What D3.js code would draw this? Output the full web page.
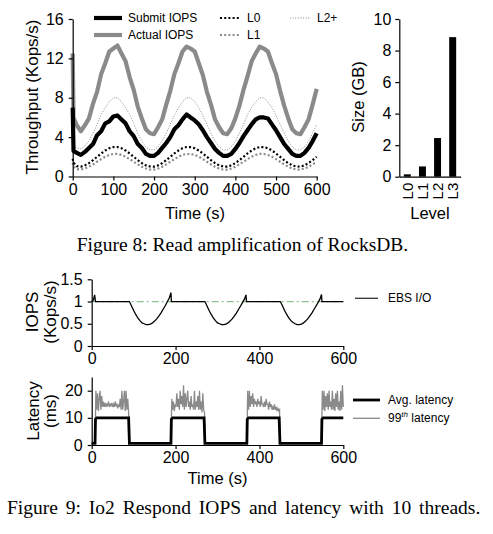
<!DOCTYPE html>
<html><head><meta charset="utf-8">
<script src="https://cdn.jsdelivr.net/npm/d3@7/dist/d3.min.js"></script>
<style>
body{margin:0;background:#fff}
svg{display:block;font-family:"Liberation Sans",Arial,Helvetica,sans-serif}
</style>
</head><body><svg id="c" width="493" height="534"></svg>
<script>
// ---------------- DATA ----------------
// Figure 8 left: throughput over time (Kops/s)
const topTime = [0, 2].concat(d3.range(10, 601, 10));
const submitIops = [7.0, 2.6,
  2.4,2.2,2.5,2.9,3.3,4.2,4.6,5.4,5.6,6.1,
  6.2,5.8,5.4,4.6,4.1,3.3,2.9,2.3,2.1,2.1,
  2.4,2.9,3.4,4.0,4.8,5.2,5.8,6.3,6.0,5.7,
  5.3,4.7,4.0,3.4,2.8,2.4,2.1,2.1,2.3,2.8,
  3.4,4.1,4.7,5.3,5.8,6.0,6.0,5.9,5.3,4.7,
  4.0,3.3,2.8,2.3,2.1,2.1,2.4,2.9,3.6,4.4];
const actualIops = [12.5, 6.0,
  5.2,4.6,5.2,5.9,7.4,8.6,10.4,11.5,12.7,13.0,
  13.3,12.5,11.7,10.1,8.8,7.1,5.9,4.8,4.4,4.3,
  5.0,5.8,7.3,8.7,10.4,11.5,12.7,13.2,13.0,12.7,
  11.5,10.3,8.6,7.3,5.8,5.0,4.4,4.3,4.9,5.9,
  7.2,8.8,10.2,11.7,12.5,13.2,13.0,12.7,11.5,10.4,
  8.7,7.2,5.9,4.8,4.4,4.3,5.0,5.8,7.3,8.9];
const l0 = [1.8, 1.4,
  1.05,1.0,1.13,1.36,1.66,2.0,2.34,2.64,2.87,2.99,
  3.0,2.87,2.64,2.34,2.0,1.66,1.36,1.13,1.02,1.0,
  1.13,1.36,1.66,2.0,2.34,2.64,2.87,2.99,2.98,2.87,
  2.64,2.34,2.0,1.66,1.36,1.13,1.02,1.0,1.13,1.36,
  1.66,2.0,2.34,2.64,2.87,2.99,2.99,2.87,2.64,2.34,
  2.0,1.66,1.36,1.13,1.02,1.0,1.13,1.36,1.66,2.0];
const l1 = [1.4, 1.0,
  0.75,0.71,0.81,0.99,1.23,1.5,1.77,2.01,2.19,2.29,
  2.3,2.19,2.01,1.77,1.5,1.23,0.99,0.81,0.71,0.7,
  0.81,0.99,1.23,1.5,1.77,2.01,2.19,2.29,2.28,2.19,
  2.01,1.77,1.5,1.23,0.99,0.81,0.71,0.7,0.81,0.99,
  1.23,1.5,1.77,2.01,2.19,2.29,2.29,2.19,2.01,1.77,
  1.5,1.23,0.99,0.81,0.71,0.7,0.81,0.99,1.23,1.5];
const l2plus = [3.0, 3.0,
  2.9,2.8,3.1,3.6,4.4,5.3,6.3,7.0,7.6,8.0,
  8.0,7.6,7.0,6.3,5.4,4.4,3.6,3.0,2.7,2.7,
  3.0,3.6,4.4,5.3,6.2,7.0,7.6,8.0,8.0,7.6,
  7.0,6.2,5.3,4.4,3.6,3.0,2.7,2.7,3.0,3.6,
  4.4,5.3,6.3,7.0,7.6,8.0,8.0,7.6,7.0,6.2,
  5.3,4.4,3.6,3.0,2.7,2.7,3.0,3.6,4.4,5.3];
const topYTicks = [0, 4, 8, 12, 16];
const topXTicks = [0, 100, 200, 300, 400, 500, 600];

// Figure 8 right: level sizes (GB)
const levels = ["L0", "L1", "L2", "L3"];
const levelSize = [0.15, 0.65, 2.45, 8.85];
const sizeTicks = [0, 2, 4, 6, 8, 10];

// Figure 9 top: EBS IOPS (Kops/s)
const ebsTime = [0,4,7,9,
  90,95,100,105,110,115,120,125,130,135,140,145,150,155,160,165,170,175,180,185,189,190,
  270,275,280,285,290,295,300,305,310,315,320,325,330,335,340,345,350,355,360,365,368,369,
  450,455,460,465,470,475,480,485,490,495,500,505,510,515,520,525,530,535,540,545,548,549,
  600];
const ebsIops = [1.0,1.03,1.15,1.0,
  1.0,0.9,0.8,0.71,0.63,0.57,0.52,0.5,0.48,0.48,0.49,0.52,0.56,0.61,0.67,0.74,0.82,0.9,0.99,1.08,1.2,1.0,
  1.0,0.9,0.8,0.71,0.63,0.57,0.52,0.5,0.48,0.48,0.49,0.52,0.56,0.61,0.67,0.74,0.82,0.9,0.98,1.07,1.15,1.0,
  1.0,0.9,0.8,0.71,0.63,0.57,0.53,0.5,0.48,0.48,0.49,0.52,0.56,0.61,0.67,0.74,0.82,0.9,0.98,1.07,1.16,1.0,
  1.0];
const ebsLimit = 1.0;
const iopsTicks = [0, 0.5, 1, 1.5];
const iopsTickLabels = ["0", "0.5", "1", "1.5"];

// Figure 9 bottom: latency (ms)
const avgTime = [0,8,9,12,88,90,189,190,193,268,270,370,371,374,447,449,548,549,552,600];
const avgLatency = [0.6,0.6,9.5,10,10,0.6,0.6,9.5,10,10,0.6,0.6,9.5,10,10,0.6,0.6,9.5,10,10];
const onStart = [8, 189, 370, 548];
const onEnd = [90, 270, 449, 600];
const p99Start = [10, 191, 372, 550];   // first sample of each busy period (2 s spacing)
const p99Off = 0.6;
const p99Busy = [
  [20,13,19,12.5,17,20,13,18,14,16,14,15.5,14,15,14.5,16,14,15,14.5,15.5,14,15,14,16,14.5,15,13.5,15,14,17,13,20,13,16,20,12.5,20,13,17,12],
  [17,13,16,12.5,15,14,19,14,17,13,20,15,18,14,22,13,19,14,17,20,14,16,13,18,14,15,13,20,13,16,14,18,13,20,13,16,12,19,13,12],
  [20,13,20,14,18,15,19,14,17,15,16,14,17,15,16,14,18,15,15,14,16,14,17,15,15,13,16,14,15,13,14,13,15,13,14,12.5,13.5,12.5,13],
  [20,13,20,12.5,18,14,19,13,20,14,16,13,20,13,17,12.5,19,14,20,13,16,12.5,20,13,22,14]
];
const latTicks = [0, 10, 20];
const timeTicks9 = [0, 200, 400, 600];

// ---------------- DRAW ----------------
const svg = d3.select("#c");
svg.append("rect").attr("width",493).attr("height",534).attr("fill","#fff");
const GRAY = "#8a8a8a";
const SANS = '"Liberation Sans",Arial,Helvetica,sans-serif';
const SERIF = '"Liberation Serif","Times New Roman",Times,serif';

function styleAxis(g, fs) {
  g.selectAll("path.domain").attr("stroke","#000").attr("stroke-width",1.2);
  g.selectAll(".tick line").attr("stroke","#000").attr("stroke-width",1.2);
  g.selectAll(".tick text").attr("font-size",fs).attr("fill","#000").style("font-family",SANS);
}
function rotLabel(x, y, txt, fs) {
  svg.append("text").attr("transform",`translate(${x},${y}) rotate(-90)`)
    .attr("text-anchor","middle").attr("font-size",fs).attr("fill","#000").text(txt);
}

// ===== Figure 8 left =====
const x1 = d3.scaleLinear().domain([0,600]).range([72.7,316.7]);
const y1 = d3.scaleLinear().domain([0,16]).range([176.5,19]);
const topPts = arr => topTime.map((t,i)=>[t,arr[i]]);
const line1 = d3.line().x(d=>x1(d[0])).y(d=>y1(d[1]));

const series8 = [
  {name:"L2+", data:l2plus, color:GRAY, w:1, dash:"1,1.6"},
  {name:"L1", data:l1, color:GRAY, w:2.2, dash:"2,2.2"},
  {name:"L0", data:l0, color:"#000", w:2.2, dash:"2,2.2"},
  {name:"Actual IOPS", data:actualIops, color:GRAY, w:4.2, dash:null},
  {name:"Submit IOPS", data:submitIops, color:"#000", w:4.2, dash:null}
];
series8.forEach(s=>{
  svg.append("path").datum(topPts(s.data)).attr("d",line1)
    .attr("fill","none").attr("stroke",s.color).attr("stroke-width",s.w)
    .attr("stroke-dasharray",s.dash).attr("stroke-linejoin","round");
});

const ax1 = svg.append("g").attr("transform","translate(0,176.5)")
  .call(d3.axisBottom(x1).tickValues(topXTicks).tickSize(4).tickSizeOuter(0).tickPadding(3));
styleAxis(ax1,16);
const ay1 = svg.append("g").attr("transform","translate(72.7,0)")
  .call(d3.axisLeft(y1).tickValues(topYTicks).tickSize(4).tickSizeOuter(0).tickPadding(5));
styleAxis(ay1,16);
svg.append("text").attr("x",195).attr("y",219).attr("text-anchor","middle")
  .attr("font-size",16.5).text("Time (s)");
rotLabel(38, 97, "Throughput (Kops/s)", 17);

// legend
const leg8 = [
  {name:"Submit IOPS", color:"#000", w:4.2, dash:null, x:94, y:18},
  {name:"Actual IOPS", color:GRAY, w:4.2, dash:null, x:94, y:35},
  {name:"L0", color:"#000", w:2.2, dash:"2,2.2", x:220, y:18},
  {name:"L1", color:GRAY, w:2.2, dash:"2,2.2", x:220, y:35},
  {name:"L2+", color:GRAY, w:1, dash:"1,1.6", x:290, y:18}
];
leg8.forEach(l=>{
  const len = l.name.startsWith("L") ? 21 : 28;
  svg.append("line").attr("x1",l.x).attr("x2",l.x+len).attr("y1",l.y).attr("y2",l.y)
    .attr("stroke",l.color).attr("stroke-width",l.w).attr("stroke-dasharray",l.dash);
  svg.append("text").attr("x",l.x+len+6).attr("y",l.y).attr("dominant-baseline","central")
    .attr("font-size",12).text(l.name);
});

// ===== Figure 8 right =====
const xb = d3.scaleBand().domain(levels).range([399.3,460.7]).paddingInner(0.54).paddingOuter(0.3);
const yb = d3.scaleLinear().domain([0,10]).range([176.7,19]);
svg.append("g").selectAll("rect").data(levels).join("rect")
  .attr("x",d=>xb(d)).attr("width",xb.bandwidth())
  .attr("y",(d,i)=>yb(levelSize[i])).attr("height",(d,i)=>yb(0)-yb(levelSize[i]))
  .attr("fill","#000");
const axb = svg.append("g").attr("transform","translate(0,176.7)")
  .call(d3.axisBottom(xb).tickSize(0).tickSizeOuter(0));
styleAxis(axb,15);
axb.selectAll(".tick text").attr("transform","rotate(-90)").attr("text-anchor","end")
  .attr("x",-6).attr("y",0).attr("dy","0.35em");
const ayb = svg.append("g").attr("transform","translate(399.3,0)")
  .call(d3.axisLeft(yb).tickValues(sizeTicks).tickSize(4).tickSizeOuter(0).tickPadding(4));
styleAxis(ayb,16);
svg.append("text").attr("x",430).attr("y",219).attr("text-anchor","middle")
  .attr("font-size",16.5).text("Level");
rotLabel(364, 97, "Size (GB)", 16.5);

// Caption 8
svg.append("text").attr("x",242.5).attr("y",251).attr("text-anchor","middle")
  .style("font-family",SERIF).attr("font-size",19.5)
  .text("Figure 8: Read amplification of RocksDB.");

// ===== Figure 9 top =====
const x9 = d3.scaleLinear().domain([0,600]).range([91.7,343.3]);
const y9a = d3.scaleLinear().domain([0,1.5]).range([346,279.3]);
svg.append("line").attr("x1",x9(0)).attr("x2",x9(600)).attr("y1",y9a(ebsLimit)).attr("y2",y9a(ebsLimit))
  .attr("stroke","#8fc08f").attr("stroke-width",1.3).attr("stroke-dasharray","7,3,2,3");
svg.append("path").datum(ebsTime.map((t,i)=>[t,ebsIops[i]]))
  .attr("d",d3.line().x(d=>x9(d[0])).y(d=>y9a(d[1])))
  .attr("fill","none").attr("stroke","#000").attr("stroke-width",1.3);
const ax9a = svg.append("g").attr("transform","translate(0,346)")
  .call(d3.axisBottom(x9).tickValues(timeTicks9).tickSize(4).tickSizeOuter(0).tickPadding(3));
styleAxis(ax9a,16);
const ay9a = svg.append("g").attr("transform","translate(91.7,0)")
  .call(d3.axisLeft(y9a).tickValues(iopsTicks).tickFormat((d,i)=>iopsTickLabels[i]).tickSize(4).tickSizeOuter(0).tickPadding(5));
styleAxis(ay9a,16);
rotLabel(38, 312, "IOPS", 17);
rotLabel(56, 312, "(Kops/s)", 17);
svg.append("line").attr("x1",355).attr("x2",378).attr("y1",298.3).attr("y2",298.3)
  .attr("stroke","#333").attr("stroke-width",1.3);
svg.append("text").attr("x",388).attr("y",298.3).attr("dominant-baseline","central")
  .attr("font-size",12).text("EBS I/O");

// ===== Figure 9 bottom =====
const y9b = d3.scaleLinear().domain([0,25]).range([445,377.1]);
const p99Pts = [[0,p99Off]];
p99Busy.forEach((vals,k)=>{
  p99Pts.push([onStart[k], p99Off]);
  vals.forEach((v,i)=>p99Pts.push([p99Start[k]+2*i, v]));
  if (onEnd[k] < 600) p99Pts.push([onEnd[k], p99Off]);
});
const line9b = d3.line().x(d=>x9(d[0])).y(d=>y9b(d[1]));
svg.append("path").datum(p99Pts).attr("d",line9b)
  .attr("fill","none").attr("stroke",GRAY).attr("stroke-width",1.3);
svg.append("path").datum(avgTime.map((t,i)=>[t,avgLatency[i]])).attr("d",line9b)
  .attr("fill","none").attr("stroke","#000").attr("stroke-width",2.8);
const ax9b = svg.append("g").attr("transform","translate(0,445)")
  .call(d3.axisBottom(x9).tickValues(timeTicks9).tickSize(4).tickSizeOuter(0).tickPadding(3));
styleAxis(ax9b,16);
const ay9b = svg.append("g").attr("transform","translate(91.7,0)")
  .call(d3.axisLeft(y9b).tickValues(latTicks).tickSize(4).tickSizeOuter(0).tickPadding(5));
styleAxis(ay9b,16);
svg.append("text").attr("x",217.5).attr("y",484).attr("text-anchor","middle")
  .attr("font-size",16.5).text("Time (s)");
rotLabel(39, 411, "Latency", 17);
rotLabel(56, 411, "(ms)", 17);
// legend
svg.append("line").attr("x1",353).attr("x2",380).attr("y1",400).attr("y2",400)
  .attr("stroke","#000").attr("stroke-width",2.8);
svg.append("text").attr("x",388).attr("y",400).attr("dominant-baseline","central")
  .attr("font-size",12).text("Avg. latency");
svg.append("line").attr("x1",353).attr("x2",380).attr("y1",418.3).attr("y2",418.3)
  .attr("stroke",GRAY).attr("stroke-width",1.3);
const t99 = svg.append("text").attr("x",388).attr("y",418.3).attr("dominant-baseline","central")
  .attr("font-size",12);
t99.append("tspan").text("99");
t99.append("tspan").attr("font-size",8).attr("font-style","italic").attr("dy",-4).text("th");
t99.append("tspan").attr("dy",4).text(" latency");

// Caption 9 (justified line: wider word spacing)
svg.append("text").attr("x",7).attr("y",514)
  .style("font-family",SERIF).attr("font-size",19.5).style("word-spacing","3px")
  .text("Figure 9: Io2 Respond IOPS and latency with 10 threads.");
</script>
</body></html>
